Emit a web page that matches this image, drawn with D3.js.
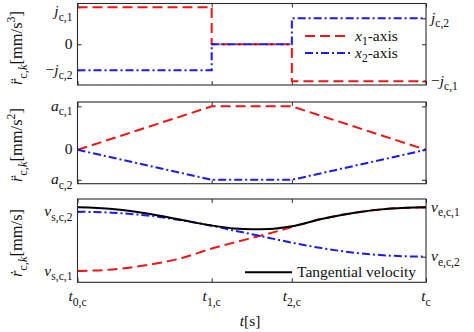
<!DOCTYPE html>
<html><head><meta charset="utf-8">
<script src="https://cdn.jsdelivr.net/npm/d3@7"></script>
<style>
html,body{margin:0;padding:0;background:#fff;}
svg{display:block;}
text{font-family:"Liberation Serif","DejaVu Serif",serif;fill:#111;}
</style></head>
<body><svg id="c" width="474" height="332"></svg>
<script>
// ---------- data ----------
const tickTimes = [0, 0.385, 0.615, 1];
const tickTimeLabels = [["t","0,c"],["t","1,c"],["t","2,c"],["t","c"]];

// jerk (step profile)
const jerkT  = [0, 0.385, 0.385, 0.615, 0.615, 1];
const jerkX1 = [1, 1, 0, 0, -1, -1];
const jerkX2 = [-0.7, -0.7, 0, 0, 0.7, 0.7];

// acceleration (trapezoid)
const accT  = [0, 0.385, 0.615, 1];
const accX1 = [0, 1, 1, 0];
const accX2 = [0, -0.69, -0.69, 0];

// velocity (read at sample times)
const velT   = [0, 0.1, 0.2, 0.3, 0.385, 0.45, 0.5, 0.55, 0.615, 0.7, 0.8, 0.9, 1];
const velX1  = [-14.3, -12.8, -8.3, -1.3, 8.2, 14.2, 18.7, 23.2, 29.7, 37.7, 44.2, 48.2, 49.4];
const velX2  = [45, 44, 41.2, 36.4, 30.9, 26.1, 22.5, 18.8, 14.1, 8.6, 3.8, 1, 0];
const velTan = [49.4, 47.7, 43.2, 36.7, 31.2, 28.2, 27.4, 27.7, 30.4, 37.7, 44.2, 48.1, 49.4];

// ---------- layout ----------
const svg = d3.select("#c");
const xL = 77.5, xR = 426;
const x = d3.scaleLinear().domain([0, 1]).range([xL, xR]);
const RED = "#f01414", BLUE = "#1a1aee", AX = "#2a2a2a";
const FS = 15.5;

function math(sel, parts, size) {
  // parts: [text, style] style: r,i (base), _r,_i (sub), ^r (sup)
  let cur = 0;
  parts.forEach(([t, st]) => {
    let target = 0, fs = size;
    if (st[0] === "_") { target = size * 0.3; fs = size * 0.75; }
    if (st[0] === "^") { target = -size * 0.42; fs = size * 0.72; }
    const it = st[st.length - 1] === "i";
    sel.append("tspan")
      .attr("dy", target - cur)
      .attr("font-size", fs)
      .attr("font-style", it ? "italic" : "normal")
      .text(t);
    cur = target;
  });
  return sel;
}

function panel(top, bottom, yDomain, leftTicks, rightTicks) {
  const y = d3.scaleLinear().domain(yDomain).range([bottom, top]);
  const g = svg.append("g");
  const lt = leftTicks.map(d => d.v), rt = rightTicks.map(d => d.v);
  const axes = [
    [d3.axisLeft(y).tickValues(lt), `translate(${xL},0)`],
    [d3.axisRight(y).tickValues(rt), `translate(${xR},0)`],
    [d3.axisBottom(x).tickValues(tickTimes), `translate(0,${bottom})`],
    [d3.axisTop(x).tickValues(tickTimes), `translate(0,${top})`]
  ];
  axes.forEach(([ax, tr]) => {
    const a = g.append("g").attr("transform", tr)
      .call(ax.tickSize(-4).tickSizeOuter(0).tickFormat(""));
    a.select(".domain").remove();
    a.selectAll("line").attr("stroke", AX).attr("stroke-width", 1);
  });
  leftTicks.forEach(d => {
    if (!d.parts) return;
    math(g.append("text").attr("x", xL - 5).attr("y", Math.max(y(d.v) + 4.5, 16))
      .attr("text-anchor", "end"), d.parts, FS);
  });
  rightTicks.forEach(d => {
    if (!d.parts) return;
    math(g.append("text").attr("x", xR + 5).attr("y", Math.max(y(d.v) + 4.5, 16))
      .attr("text-anchor", "start"), d.parts, FS);
  });
  return {g, y, top, bottom};
}

function box(p) {
  p.g.append("rect").attr("x", xL).attr("y", p.top)
    .attr("width", xR - xL).attr("height", p.bottom - p.top)
    .attr("fill", "none").attr("stroke", AX).attr("stroke-width", 1.1);
}

function drawLine(p, ts, vs, color, dash, curve) {
  const line = d3.line().x((d, i) => x(ts[i])).y(d => p.y(d)).curve(curve || d3.curveLinear);
  p.g.append("path").datum(vs).attr("d", line)
    .attr("fill", "none").attr("stroke", color).attr("stroke-width", 2)
    .attr("stroke-dasharray", dash);
}

const DASH = "10,5", DASHDOT = "8,3,2,3";

// top panel: jerk
const p1 = panel(3.5, 85, [-1.1, 1.1],
  [{v: 1, parts: [["j","i"],["c,1","_r"]]}, {v: 0, parts: [["0","r"]]}, {v: -0.7, parts: [["\u2212","r"],["j","i"],["c,2","_r"]]}],
  [{v: 0.7, parts: [["j","i"],["c,2","_r"]]}, {v: 0}, {v: -1, parts: [["\u2212","r"],["j","i"],["c,1","_r"]]}]);
drawLine(p1, jerkT, jerkX1, RED, DASH);
drawLine(p1, jerkT, jerkX2, BLUE, DASHDOT);
box(p1);
// legend
[[RED, DASH, 36, "1"], [BLUE, DASHDOT, 53, "2"]].forEach(([c, d, yy, k]) => {
  p1.g.append("line").attr("x1", 305).attr("x2", 350).attr("y1", yy).attr("y2", yy)
    .attr("stroke", c).attr("stroke-width", 2).attr("stroke-dasharray", d);
  math(p1.g.append("text").attr("x", 355).attr("y", yy + 4.5),
    [["x","i"],[k,"_r"],["-axis","r"]], FS);
});

// middle panel: acceleration
const p2 = panel(102, 183.7, [-0.78, 1.1],
  [{v: 1, parts: [["a","i"],["c,1","_r"]]}, {v: 0, parts: [["0","r"]]}, {v: -0.69, parts: [["a","i"],["c,2","_r"]]}],
  [{v: 1}, {v: 0}, {v: -0.69}]);
drawLine(p2, accT, accX1, RED, DASH);
drawLine(p2, accT, accX2, BLUE, DASHDOT);
box(p2);

// bottom panel: velocity
const p3 = panel(199, 282.3, [-25.6, 57.7],
  [{v: 45, parts: [["v","i"],["s,c,2","_r"]]}, {v: -14.3, parts: [["v","i"],["s,c,1","_r"]]}],
  [{v: 49.4, parts: [["v","i"],["e,c,1","_r"]]}, {v: 0, parts: [["v","i"],["e,c,2","_r"]]}]);
drawLine(p3, velT, velX1, RED, DASH, d3.curveMonotoneX);
drawLine(p3, velT, velX2, BLUE, DASHDOT, d3.curveMonotoneX);
drawLine(p3, velT, velTan, "#000", null, d3.curveMonotoneX);
box(p3);
p3.g.append("line").attr("x1", 245).attr("x2", 292).attr("y1", 272.3).attr("y2", 272.3)
  .attr("stroke", "#000").attr("stroke-width", 2);
p3.g.append("text").attr("x", 297).attr("y", 277).attr("font-size", FS).text("Tangential velocity");

// x tick labels
tickTimes.forEach((t, i) => {
  const [b, s] = tickTimeLabels[i];
  math(svg.append("text").attr("x", x(t)).attr("y", 301).attr("text-anchor", "middle"),
    [[b,"i"],[s,"_r"]], FS);
});
math(svg.append("text").attr("x", 250).attr("y", 326).attr("text-anchor", "middle"),
  [["t","i"],["[s]","r"]], FS);

// y axis titles
const titles = [
  [48, [["r\u0308","i"],["c,","_r"],["k","_i"],["[mm/s","r"],["3","^r"],["]","r"]]],
  [145, [["r\u0308","i"],["c,","_r"],["k","_i"],["[mm/s","r"],["2","^r"],["]","r"]]],
  [243, [["r\u0307","i"],["c,","_r"],["k","_i"],["[mm/s]","r"]]]
];
titles.forEach(([yc, parts]) => {
  math(svg.append("text").attr("transform", `translate(22,${yc}) rotate(-90)`)
    .attr("text-anchor", "middle"), parts, 16.5);
});
</script></body></html>
